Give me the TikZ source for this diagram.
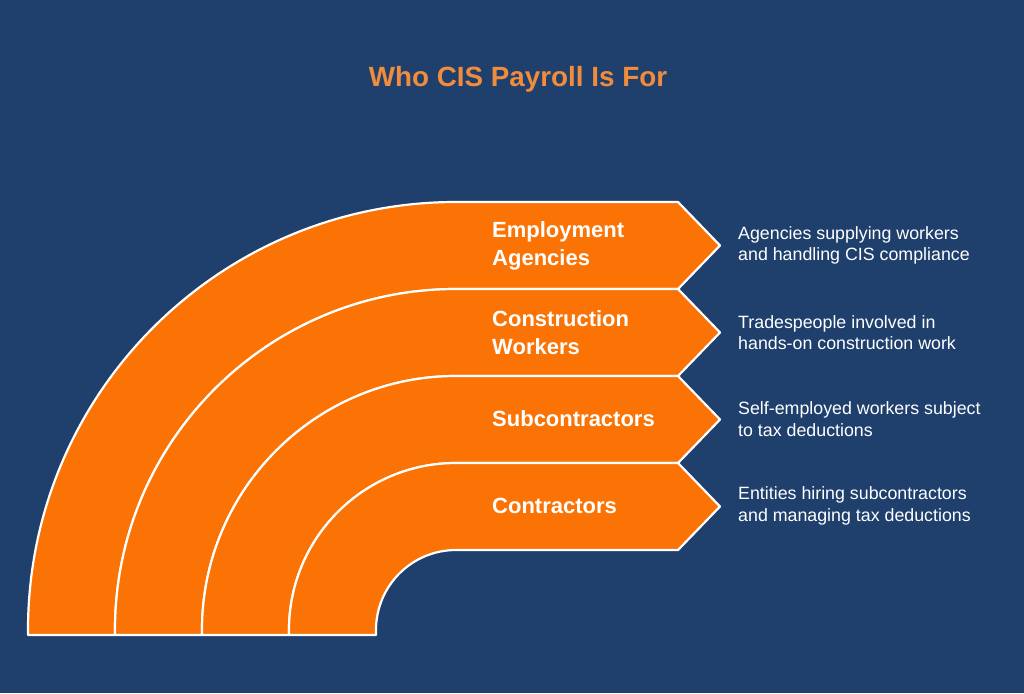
\documentclass[tikz,border=0pt]{standalone}
\usepackage{fontspec}
\setmainfont{Liberation Sans}
\definecolor{bgblue}{HTML}{1F406D}
\definecolor{bandorange}{HTML}{FA7304}
\definecolor{titleorange}{HTML}{F08C3C}
\begin{document}
\begin{tikzpicture}[x=1pt,y=-1pt,
  band/.style={fill=bandorange,draw=white,line width=2.2pt,line join=round},
  lab/.style={anchor=west,align=left,text=white,font=\bfseries\fontsize{22}{28}\selectfont,inner sep=0pt},
  desc/.style={anchor=west,align=left,text=white,font=\fontsize{17.8}{21.5}\selectfont,inner sep=0pt},
  titlestyle/.style={text=titleorange,font=\bfseries\fontsize{27.8}{34}\selectfont,inner sep=0pt}]
\fill[bgblue] (0,0) rectangle (1024,693);
\useasboundingbox (0,0) rectangle (1024,693);
\def\cx{456}\def\cy{630}\def\nx{678}\def\tx{720}
\foreach \ro/\ri in {428/341,341/254,254/167,167/80}{
  \pgfmathsetmacro{\ty}{\cy-(\ro+\ri)/2}
  \draw[band] ({\cx-\ro},635) -- ({\cx-\ro},\cy) arc[start angle=180,end angle=270,radius=\ro]
    -- (\nx,{\cy-\ro}) -- (\tx,\ty) -- (\nx,{\cy-\ri}) -- (\cx,{\cy-\ri})
    arc[start angle=270,end angle=180,radius=\ri] -- ({\cx-\ri},635) -- cycle;
}
\node[titlestyle] (title) at (518,79) {Who CIS Payroll Is For};
\node[lab] (l1) at (492,245.5) {Employment\\Agencies};
\node[lab] (l2) at (492,332.5) {Construction\\Workers};
\node[lab] (l3) at (492,419) {Subcontractors};
\node[lab] (l4) at (492,506) {Contractors};
\node[desc] (d1) at (738,245.5) {Agencies supplying workers\\and handling CIS compliance};
\node[desc] (d2) at (738,332.5) {Tradespeople involved in\\hands-on construction work};
\node[desc] (d3) at (738,419) {Self-employed workers subject\\to tax deductions};
\node[desc] (d4) at (738,506) {Entities hiring subcontractors\\and managing tax deductions};
\end{tikzpicture}
\end{document}
